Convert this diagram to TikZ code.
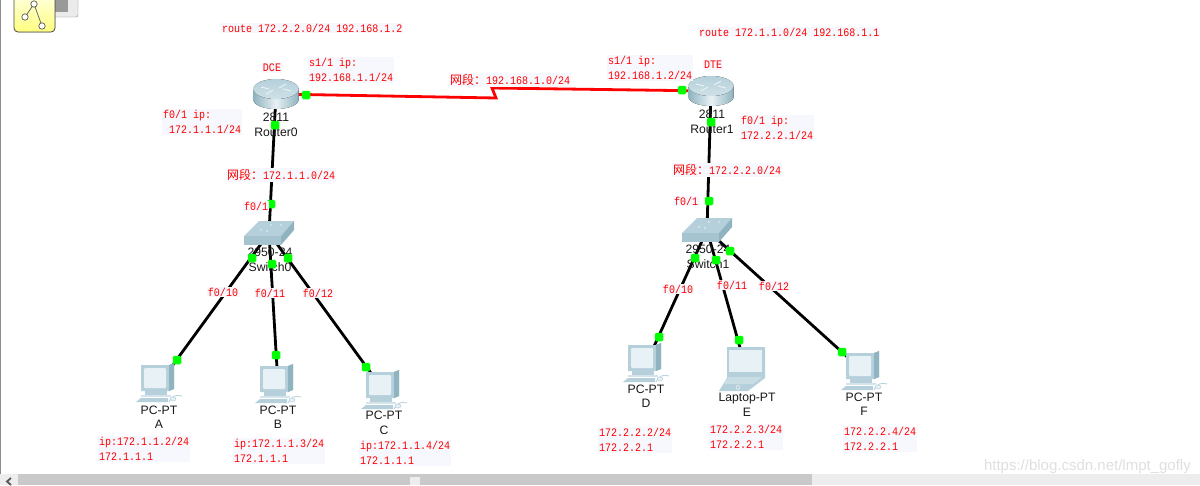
\documentclass[tikz,border=0pt]{standalone}
\usepackage{fontspec}
\setmainfont{Liberation Sans}
\setmonofont[FakeStretch=0.87]{Liberation Mono}
\newfontfamily\cjk{Noto Sans CJK SC}
\usetikzlibrary{positioning}
\definecolor{note}{RGB}{255,0,0}
\definecolor{notebg}{RGB}{246,248,253}
\definecolor{port}{RGB}{0,255,0}
\definecolor{iconlight}{RGB}{232,241,245}
\definecolor{iconmid}{RGB}{181,208,218}
\definecolor{icondark}{RGB}{143,179,191}
\newcommand{\segm}{{\cjk\fontsize{12}{15}\selectfont 网段：}}
\tikzset{
  routerpic/.pic={
    \fill[left color=icondark,right color=icondark,middle color=iconlight] (-22.5,-4) -- (-22.5,6) arc[x radius=22.5,y radius=9,start angle=180,end angle=0] -- (22.5,-4) -- cycle;
    \fill[top color=iconmid,bottom color=iconmid!50!iconlight] (0,-5) ellipse[x radius=22.5,y radius=10];
    \draw[iconlight,line width=1pt] (-15,-7) -- (-7,-5) (15,-3) -- (7,-5) (-10,0) -- (-3,-4) (10,-10) -- (3,-6);
  },
  switchpic/.pic={
    \fill[iconmid] (-25,3) -- (-10,-12) -- (25,-12) -- (12,3) -- cycle;
    \fill[icondark!40!iconmid] (-25,3) rectangle (12,12);
    \fill[icondark] (12,3) -- (25,-12) -- (25,-3) -- (12,12) -- cycle;
    \fill[iconlight] (-8,-3) circle[radius=.9] (2,-8) circle[radius=.9] (12,-8) circle[radius=.9] (-2,-2) circle[radius=.9];
  },
  pcpic/.pic={
    \fill[iconmid] (-18,-19) -- (10,-19) -- (15,-21) -- (15,5) -- (10,7) -- (-18,7) -- cycle;
    \fill[icondark] (10,-19) -- (15,-21) -- (15,5) -- (10,7) -- cycle;
    \fill[iconlight,rounded corners=1pt] (-15,-16) rectangle (7,4);
    \fill[iconmid] (-14,7) rectangle (8,11);
    \fill[iconlight!60!iconmid] (-18,11) -- (12,11) -- (12,13) -- (-18,13) -- cycle;
    \fill[iconmid] (-23,18) -- (-18,14) -- (9,14) -- (9,18) -- cycle;
    \draw[iconmid,line width=.8pt] (10,18) .. controls (12,12) and (18,10) .. (23,12);
    \fill[iconlight,draw=iconmid,line width=.5pt] (14,15) ellipse[x radius=3,y radius=2];
  },
  laptoppic/.pic={
    \fill[iconmid] (-27,22) -- (-19,9) -- (-19,-22) -- (19,-22) -- (19,9) -- (2,22) -- cycle;
    \fill[iconlight] (-17,-19) rectangle (16,3);
    \fill[iconmid!60!iconlight] (-17,8) -- (16,8) -- (7,15) -- (-23,15) -- cycle;
    \draw[iconlight,line width=.6pt] (-8,18.5) circle[radius=2];
  },
  stamp/.pic={
    \fill[black!8,draw=black!45,rounded corners=2pt] (50,-3) rectangle (78,17);
    \fill[black!40] (55,-3) rectangle (68,12);
    \fill[top color=yellow!12!white,bottom color=yellow!50!white,draw=black!70,rounded corners=4pt,line width=.8pt] (14,-6) rectangle (55,32);
    \draw[black!65,line width=.7pt] (34,4) -- (25,17) (34,4) -- (42,26);
    \fill[white,draw=black!65,line width=.7pt] (34,4) circle[radius=3.2] (25,17) circle[radius=3.2] (42,26) circle[radius=3.2];
  },
  eth/.style={draw=black,line width=2.8pt},
  serial/.style={draw=note,line width=2.8pt},
  dot/.style={fill=port,rounded corners=1.5pt,minimum size=8.5pt,inner sep=0pt},
  lbl/.style={font=\ttfamily\fontsize{11.5}{15}\selectfont,text=note,align=left,inner sep=1pt,fill=notebg},
  devcap/.style={font=\fontsize{12.2}{14.5}\selectfont,text=black!90,align=center,inner sep=0pt},
  dev/.style={inner sep=0pt,minimum size=1pt}
}
\begin{document}
\begin{tikzpicture}[x=1pt,y=-1pt]
    \useasboundingbox (0,0) rectangle (1200,485);
    \fill[white] (0,0) rectangle (1200,485);
    \fill[black!45] (0,0) rectangle (1,474);
    \pic at (0,0) {stamp};
    % scroll bar
    \fill[black!7] (0,474) rectangle (1200,485);
    \fill[black!21] (18,474) rectangle (812,485);
    \fill[black!7] (410,477) rectangle (420,485);
    \draw[black!65,line width=1.8pt] (11,478) -- (7,481.5) -- (11,485);
    % devices
    \node[dev] (r0) at (276,94) {};
    \node[dev] (r1) at (711,91) {};
    \node[dev] (s0) at (269,233) {};
    \node[dev] (s1) at (707,230) {};
    \node[dev] (pa) at (159,384) {};
    \node[dev] (pb) at (278,385) {};
    \node[dev] (pc) at (384,391) {};
    \node[dev] (pd) at (646,364) {};
    \node[dev] (le) at (746,369) {};
    \node[dev] (pf) at (864,372) {};
    \coordinate (kink0) at (496,98);
    \coordinate (kink1) at (492,88);
    % links
    \draw[serial] (r0.center) -- (kink0) -- (kink1) -- (r1.center);
    \draw[eth] (r0.center) -- (s0.center);
    \draw[eth] (r1.center) -- (s1.center);
    \draw[eth] (s0.center) -- (pa.center);
    \draw[eth] (s0.center) -- (pb.center);
    \draw[eth] (s0.center) -- (pc.center);
    \draw[eth] (s1.center) -- (pd.center);
    \draw[eth] (s1.center) -- (le.center);
    \draw[eth] (s1.center) -- (pf.center);
    \pic at (r0) {routerpic};
    \pic at (r1) {routerpic};
    \pic at (s0) {switchpic};
    \pic at (s1) {switchpic};
    \pic at (pa) {pcpic};
    \pic at (pb) {pcpic};
    \pic at (pc) {pcpic};
    \pic at (pd) {pcpic};
    \pic at (le) {laptoppic};
    \pic at (pf) {pcpic};
    % names
    \node[devcap] (r0cap) at (276,125) {2811\\Router0};
    \node[devcap] (r1cap) at (712,122) {2811\\Router1};
    \node[devcap] (s0cap) at (270,260) {2950-24\\Switch0};
    \node[devcap] (s1cap) at (708,257) {2950-24\\Switch1};
    \node[devcap] (pacap) at (159,417) {PC-PT\\A};
    \node[devcap] (pbcap) at (278,417) {PC-PT\\B};
    \node[devcap] (pccap) at (384,423) {PC-PT\\C};
    \node[devcap] (pdcap) at (646,396) {PC-PT\\D};
    \node[devcap] (lecap) at (747,405) {Laptop-PT\\E};
    \node[devcap] (pfcap) at (864,404) {PC-PT\\F};
    % ports
    \node[dot] (d1) at (306,95) {};
    \node[dot] (d2) at (682,90) {};
    \node[dot] (d3) at (275,125) {};
    \node[dot] (d4) at (711,122) {};
    \node[dot] (d5) at (271,204) {};
    \node[dot] (d6) at (709,201) {};
    \node[dot] (d7) at (252,258) {};
    \node[dot] (d8) at (272,264) {};
    \node[dot] (d9) at (288,258) {};
    \node[dot] (d10) at (177,360) {};
    \node[dot] (d11) at (276,355) {};
    \node[dot] (d12) at (366,367) {};
    \node[dot] (d13) at (695,258) {};
    \node[dot] (d14) at (716,260) {};
    \node[dot] (d15) at (730,251) {};
    \node[dot] (d16) at (659,337) {};
    \node[dot] (d17) at (739,340) {};
    \node[dot] (d18) at (842,352) {};
    % notes
    \node[lbl,anchor=west] (n1) at (221,28) {route 172.2.2.0/24 192.168.1.2};
    \node[lbl,anchor=west] (n2) at (698,32) {route 172.1.1.0/24 192.168.1.1};
    \node[lbl,anchor=center] (n3) at (272,68) {DCE};
    \node[lbl,anchor=center] (n4) at (713,65) {DTE};
    \node[lbl,anchor=west] (n5) at (308,70) {s1/1 ip:\\192.168.1.1/24};
    \node[lbl,anchor=west] (n6) at (607,68) {s1/1 ip:\\192.168.1.2/24};
    \node[lbl,anchor=west] (n7) at (162,122) {f0/1 ip:\\\hspace*{6pt}172.1.1.1/24};
    \node[lbl,anchor=west] (n8) at (740,128) {f0/1 ip:\\172.2.2.1/24};
    \node[lbl,anchor=west] (n9) at (449,80) {\segm 192.168.1.0/24};
    \node[lbl,anchor=west] (n10) at (226,175) {\segm 172.1.1.0/24};
    \node[lbl,anchor=west] (n11) at (672,170) {\segm 172.2.2.0/24};
    \node[lbl,anchor=west] (n12) at (243,206) {f0/1};
    \node[lbl,anchor=west] (n13) at (673,201) {f0/1};
    \node[lbl] (n14) at (223,292) {f0/10};
    \node[lbl] (n15) at (270,293) {f0/11};
    \node[lbl] (n16) at (318,293) {f0/12};
    \node[lbl] (n17) at (678,289) {f0/10};
    \node[lbl] (n18) at (732,285) {f0/11};
    \node[lbl] (n19) at (774,286) {f0/12};
    \node[lbl,anchor=west] (n20) at (98,449) {ip:172.1.1.2/24\\172.1.1.1};
    \node[lbl,anchor=west] (n21) at (233,451) {ip:172.1.1.3/24\\172.1.1.1};
    \node[lbl,anchor=west] (n22) at (359,453) {ip:172.1.1.4/24\\172.1.1.1};
    \node[lbl,anchor=west] (n23) at (598,440) {172.2.2.2/24\\172.2.2.1};
    \node[lbl,anchor=west] (n24) at (709,437) {172.2.2.3/24\\172.2.2.1};
    \node[lbl,anchor=west] (n25) at (843,439) {172.2.2.4/24\\172.2.2.1};
    \node[font=\fontsize{15}{15}\selectfont,text=black!12,anchor=east,inner sep=0pt] (mark) at (1191,467) {https://blog.csdn.net/lmpt\_gofly};
\end{tikzpicture}
\end{document}
